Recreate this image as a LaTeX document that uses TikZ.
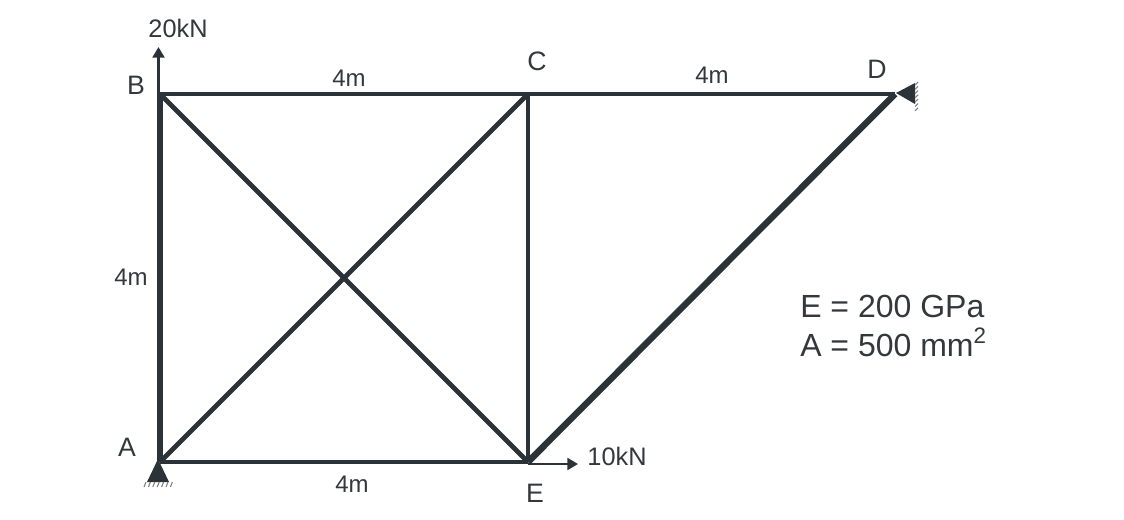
\documentclass[tikz,border=0pt]{standalone}
\usepackage{fontspec}
\setmainfont{Liberation Sans}
\usetikzlibrary{arrows.meta,positioning}
\definecolor{barcol}{HTML}{2B3238}
\definecolor{textcol}{HTML}{33383D}
\tikzset{
    lbl/.style={text=textcol,font=\fontsize{18}{20}\selectfont,inner sep=0pt},
    force/.style={text=textcol,font=\fontsize{19}{21}\selectfont,inner sep=0pt},
    letter/.style={text=textcol,font=\fontsize{20}{22}\selectfont,inner sep=0pt},
    big/.style={text=textcol,font=\fontsize{24}{28}\selectfont,inner sep=0pt,anchor=base west},
    bar/.style={draw=barcol,line width=3.6pt},
    load/.style={draw=barcol,line width=1.7pt,-{Triangle[length=8pt,width=9pt]}},
    hatch/.style={draw=gray,line width=0.8pt}
}

\begin{document}
\begin{tikzpicture}[x=0.75pt,y=-0.75pt]
    \useasboundingbox (0,0) rectangle (1124,519);

    \coordinate (a) at (160,462);
    \coordinate (b) at (160,94);
    \coordinate (c) at (528,94);
    \coordinate (d) at (895,94);
    \coordinate (e) at (528,462);
    \coordinate (bstart) at (158.5,94);
    \coordinate (top) at (158.5,47);
    \coordinate (estart) at (528,464);
    \coordinate (right) at (578,464);

    \draw [bar] (b) -- (c);
    \draw [bar,line width=2.8pt] (c) -- (d);
    \draw [bar] (a) -- (e);
    \draw [bar,line width=3.9pt] (a) -- (b);
    \draw [bar] (c) -- (e);
    \draw [bar] (a) -- (c);
    \draw [bar] (b) -- (e);
    \draw [bar,line width=4.8pt] (e) -- (d);
    \draw [load] (bstart) -- (top);
    \draw [load] (estart) -- (right);

    % supports
    \fill [barcol] (158,459) -- (147,482) -- (169,482) -- cycle;
    \fill [barcol] (896,93) -- (915,83) -- (915,104) -- cycle;
    \foreach \i in {0,...,6}
        \draw [hatch] (146+\i*4.4,482) -- ++(-2,5);
    \foreach \i in {0,...,6}
        \draw [hatch] (915,85+\i*4.3) -- ++(3,-3);

    \node [force] (loadb) at (178,28) {20kN};
    \node [force] (loade) at (617,456) {10kN};
    \node [letter] (lblb) at (136,85) {B};
    \node [letter] (lblc) at (537,61) {C};
    \node [letter] (lbld) at (877,69) {D};
    \node [letter] (lbla) at (127,447) {A};
    \node [letter] (lble) at (535,493) {E};
    \node [lbl] (ab) at (131,277) {4m};
    \node [lbl] (bc) at (349,78) {4m};
    \node [lbl] (cd) at (712,75) {4m};
    \node [lbl] (ae) at (352,484) {4m};
    \node [big] (modulus) at (800,317) {E = 200 GPa};
    \node [big] (area) at (800,356) {A = 500 mm\textsuperscript{2}};
\end{tikzpicture}
\end{document}
